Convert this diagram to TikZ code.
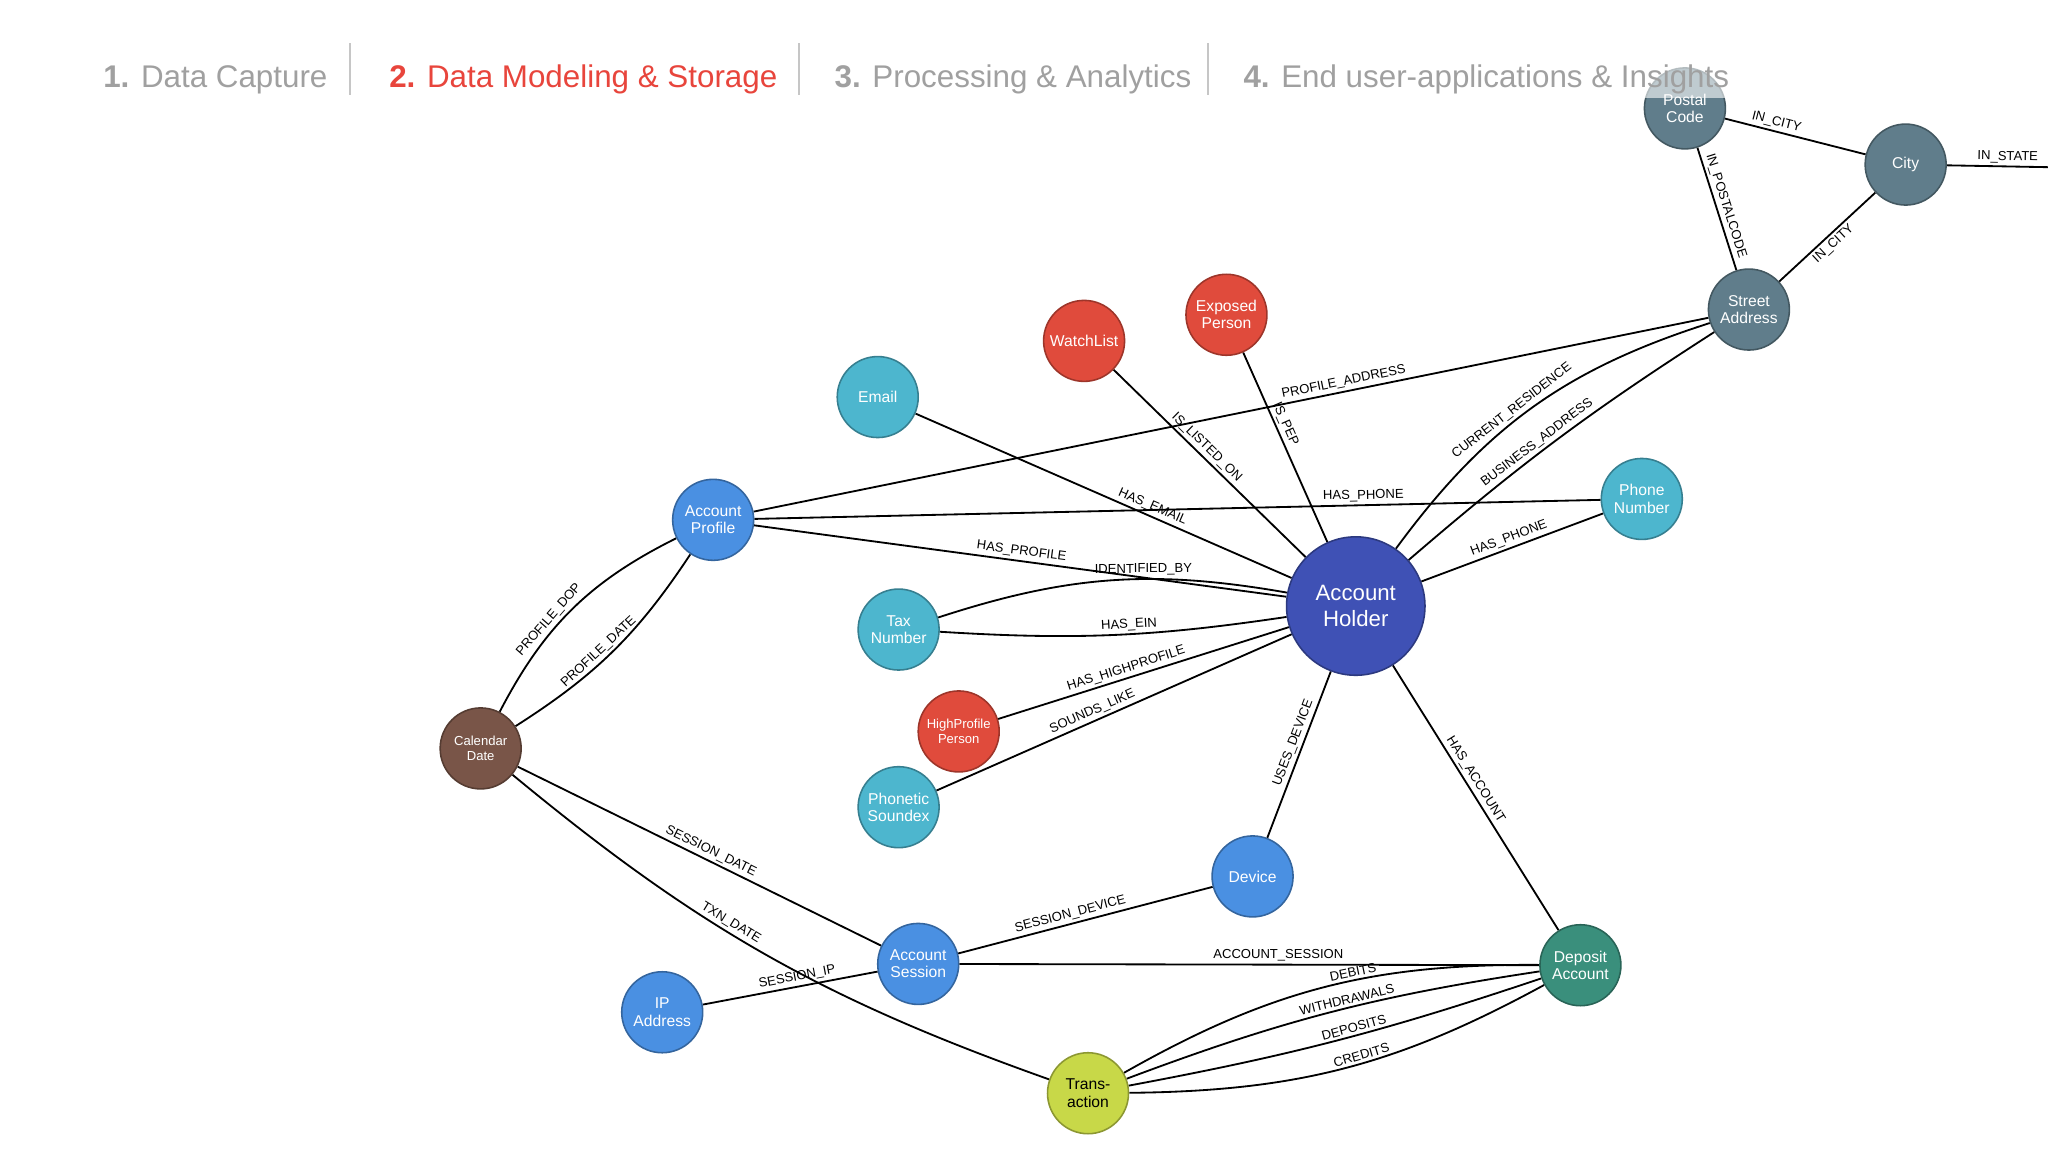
\documentclass[tikz,border=0pt]{standalone}
\usepackage{fontspec}
\setmainfont{Liberation Sans}
\usetikzlibrary{backgrounds}
\definecolor{hdr}{HTML}{A0A0A0}
\definecolor{hred}{HTML}{E8453C}
\definecolor{cgrey}{HTML}{607D8B}
\definecolor{cred}{HTML}{E04B3C}
\definecolor{cteal}{HTML}{4DB6CE}
\definecolor{cblue}{HTML}{4A90E2}
\definecolor{cnavy}{HTML}{3F51B5}
\definecolor{cbrown}{HTML}{795548}
\definecolor{cgreen}{HTML}{3A8F7C}
\definecolor{cyel}{HTML}{C8D848}
\tikzset{
 nd/.style={circle,minimum size=31pt,inner sep=0pt,draw=#1!70!black,line width=0.6pt,fill=#1,text=white,align=center,font=\fontsize{6}{6.6}\selectfont},
 ed/.style={line width=0.7pt,black},
 lbl/.style={font=\fontsize{5}{6}\selectfont,sloped,above,inner sep=1pt,text=black},
 lblb/.style={font=\fontsize{5}{6}\selectfont,sloped,below,inner sep=1pt,text=black},
 hd/.style={font=\fontsize{12}{14}\selectfont,anchor=west,text=hdr}
}
\begin{document}
\begin{tikzpicture}[x=0.5pt,y=-0.5pt]
\useasboundingbox (0,0) rectangle (1568,882);
% nodes
\node[nd=cgrey] (postal) at (1290,83) {Postal\\Code};
\node[nd=cgrey] (city) at (1459,126) {City};
\node[nd=cgrey] (street) at (1339,237) {Street\\Address};
\node[nd=cred] (watch) at (830,261) {WatchList};
\node[nd=cred] (exposed) at (939,241) {Exposed\\Person};
\node[nd=cteal] (email) at (672,304) {Email};
\node[nd=cblue] (profile) at (546,398) {Account\\Profile};
\node[nd=cteal] (phone) at (1257,382) {Phone\\Number};
\node[nd=cnavy,minimum size=53pt,font=\fontsize{8.5}{10}\selectfont] (holder) at (1038,464) {Account\\Holder};
\node[nd=cteal] (tax) at (688,482) {Tax\\Number};
\node[nd=cred,font=\fontsize{5}{6}\selectfont] (high) at (734,560) {HighProfile\\Person};
\node[nd=cteal] (sound) at (688,618) {Phonetic\\Soundex};
\node[nd=cbrown,font=\fontsize{5}{6}\selectfont] (cal) at (368,573) {Calendar\\Date};
\node[nd=cblue] (device) at (959,671) {Device};
\node[nd=cblue] (session) at (703,738) {Account\\Session};
\node[nd=cgreen] (deposit) at (1210,739) {Deposit\\Account};
\node[nd=cblue] (ip) at (507,775) {IP\\Address};
\node[nd=cyel,text=black] (txn) at (833,837) {Trans-\\action};
\coordinate (offr) at (1568,128);
% edges
\begin{pgfonlayer}{background}
\fill[white] (0,0) rectangle (1568,882);
\draw[ed] (postal) -- node[lbl,pos=.35]{IN\_CITY} (city);
\draw[ed] (city) -- node[lbl,pos=.6]{IN\_STATE} (offr);
\draw[ed] (postal) -- node[lbl,pos=.5]{IN\_POSTALCODE} (street);
\draw[ed] (street) -- node[lblb,pos=.5]{IN\_CITY} (city);
\draw[ed] (profile) -- node[lbl,pos=.62]{PROFILE\_ADDRESS} (street);
\draw[ed] (profile) -- node[lbl,pos=.72]{HAS\_PHONE} (phone);
\draw[ed] (profile) -- node[lbl,pos=.5]{HAS\_PROFILE} (holder);
\draw[ed] (email) -- node[lbl,pos=.62]{HAS\_EMAIL} (holder);
\draw[ed] (watch) -- node[lbl,pos=.45]{IS\_LISTED\_ON} (holder);
\draw[ed] (exposed) -- node[lbl,pos=.4]{IS\_PEP} (holder);
\draw[ed] (holder) to[bend left=18] node[lbl,pos=.45]{CURRENT\_RESIDENCE} (street);
\draw[ed] (holder) to[bend left=4] node[lbl,pos=.45]{BUSINESS\_ADDRESS} (street);
\draw[ed] (holder) -- node[lbl,pos=.5]{HAS\_PHONE} (phone);
\draw[ed] (tax) to[bend left=14] node[lbl,pos=.6]{IDENTIFIED\_BY} (holder);
\draw[ed] (tax) to[bend right=6] node[lbl,pos=.55]{HAS\_EIN} (holder);
\draw[ed] (high) -- node[lbl,pos=.45]{HAS\_HIGHPROFILE} (holder);
\draw[ed] (sound) -- node[lbl,pos=.45]{SOUNDS\_LIKE} (holder);
\draw[ed] (holder) -- node[lbl,pos=.45]{USES\_DEVICE} (device);
\draw[ed] (holder) -- node[lbl,pos=.45]{HAS\_ACCOUNT} (deposit);
\draw[ed] (cal) to[bend left=18] node[lbl,pos=.4]{PROFILE\_DOP} (profile);
\draw[ed] (cal) to[bend right=12] node[lbl,pos=.45]{PROFILE\_DATE} (profile);
\draw[ed] (cal) -- node[lbl,pos=.52]{SESSION\_DATE} (session);
\draw[ed] (cal) to[bend right=10] node[lbl,pos=.42]{TXN\_DATE} (txn);
\draw[ed] (session) -- node[lbl,pos=.45]{SESSION\_DEVICE} (device);
\draw[ed] (ip) -- node[lbl,pos=.55]{SESSION\_IP} (session);
\draw[ed] (session) -- node[lbl,pos=.55]{ACCOUNT\_SESSION} (deposit);
\draw[ed] (txn) to[bend left=15] node[lbl,pos=.58]{DEBITS} (deposit);
\draw[ed] (txn) to[bend left=6] node[lbl,pos=.55]{WITHDRAWALS} (deposit);
\draw[ed] (txn) to[bend right=4] node[lbl,pos=.55]{DEPOSITS} (deposit);
\draw[ed] (txn) to[bend right=14] node[lbl,pos=.55]{CREDITS} (deposit);
\end{pgfonlayer}
% header
\fill[white,opacity=0.6] (1250,45) rectangle (1340,75);
\node[hd] (h1) at (72,61) {\textbf{1.} Data Capture};
\node[hd,text=hred] (h2) at (291,61) {\textbf{2.} Data Modeling \& Storage};
\node[hd] (h3) at (632,61) {\textbf{3.} Processing \& Analytics};
\node[hd] (h4) at (945,61) {\textbf{4.} End user-applications \& Insights};
\draw[hdr!60,line width=0.8pt] (268,33) -- (268,73) (612,33) -- (612,73) (925,33) -- (925,73);
\end{tikzpicture}
\end{document}
